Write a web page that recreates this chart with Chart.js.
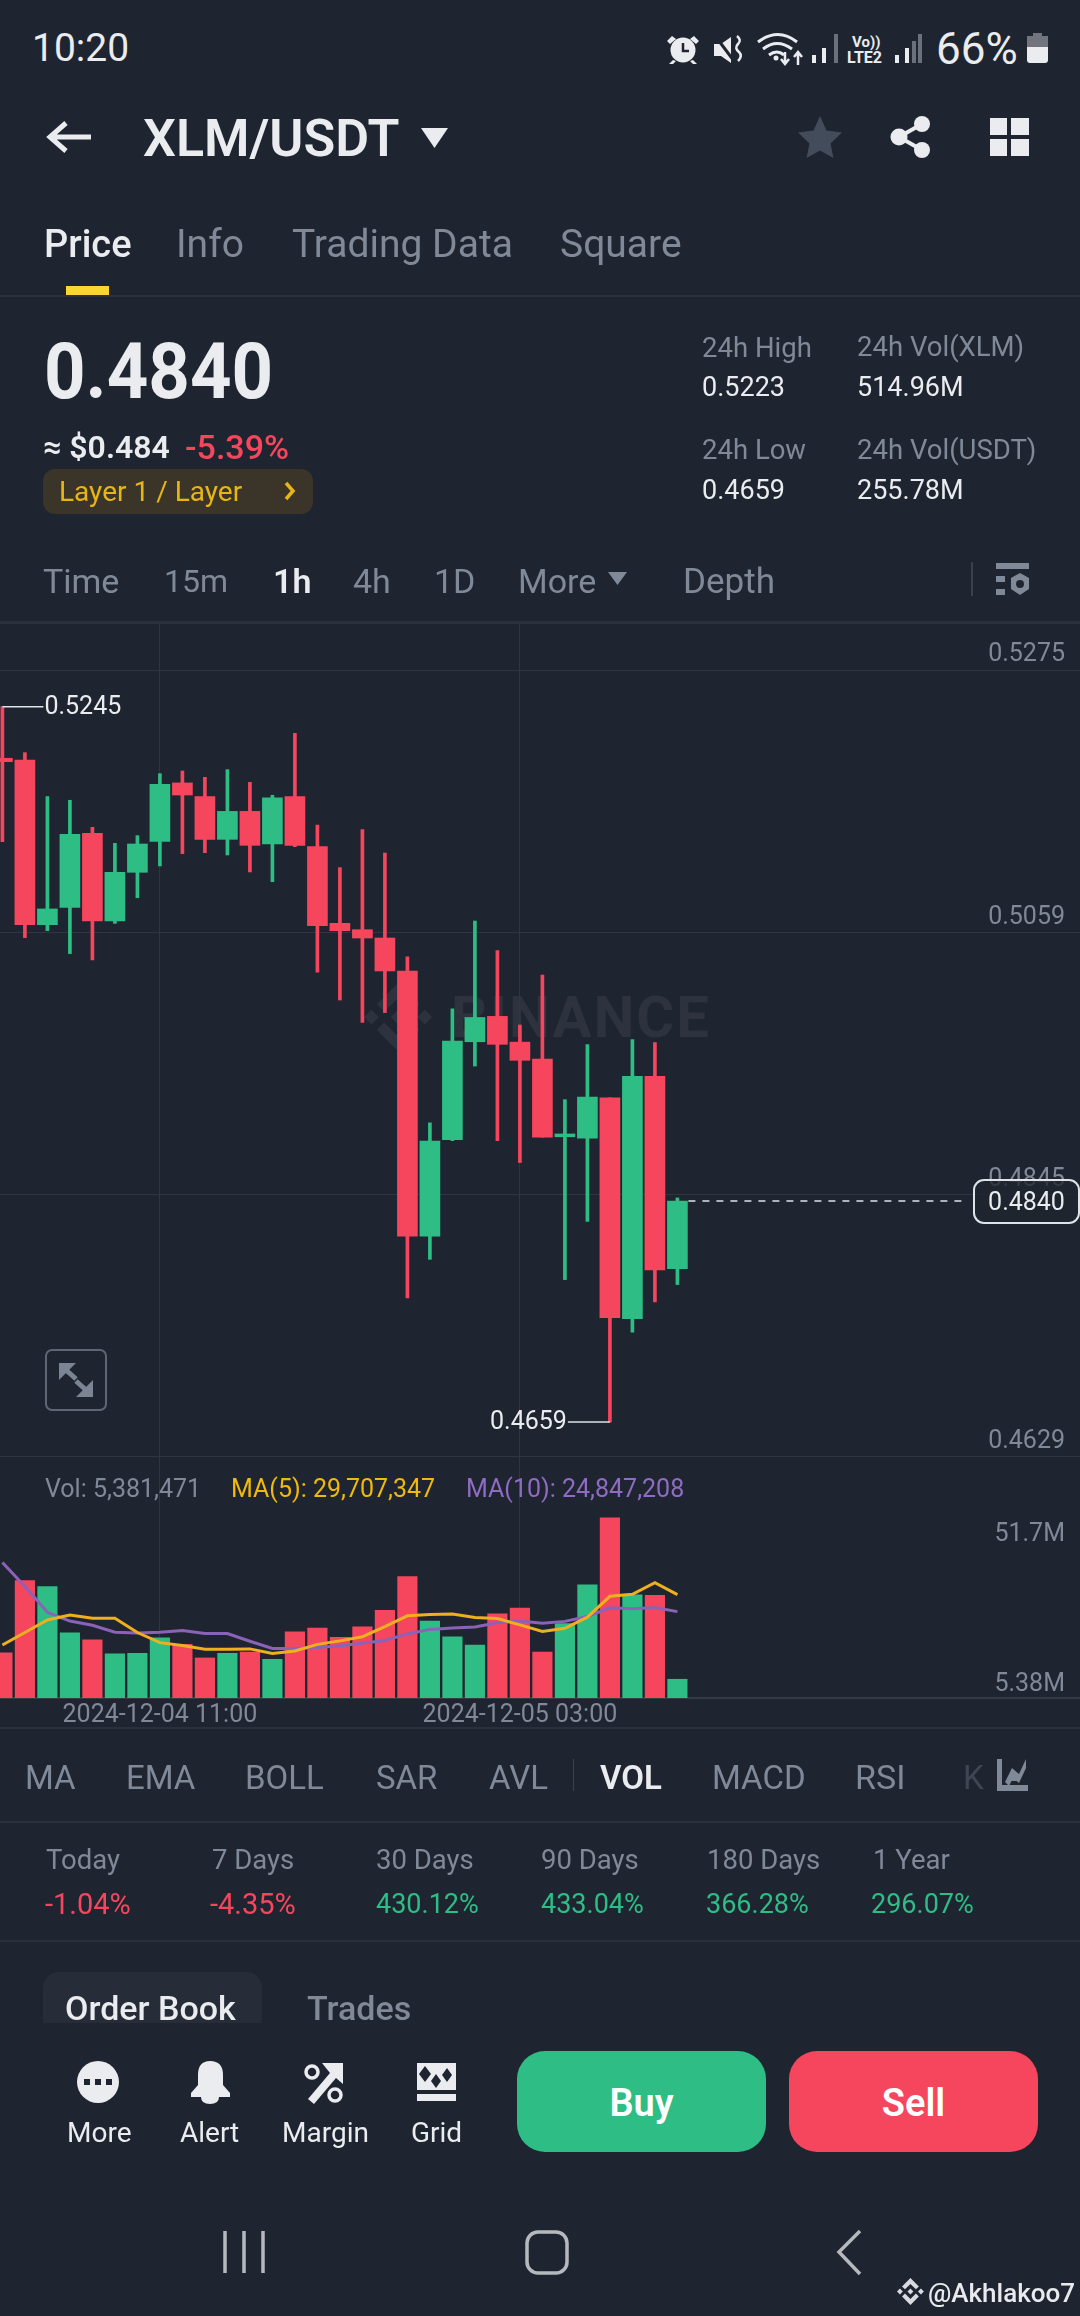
<!DOCTYPE html>
<html lang="en">
<head>
<meta charset="UTF-8">
<title>XLM/USDT</title>
<script src="https://cdn.jsdelivr.net/npm/chart.js"></script>
<style>
  html,body{margin:0;padding:0;background:#1f2530;}
  #page{position:relative;width:1080px;height:2316px;overflow:hidden;background:#1f2530;font-family:Roboto,sans-serif;color:#eaecef;}
  .t{position:absolute;white-space:nowrap;transform:translateY(-50%);line-height:1;}
  .grey{color:#808998;}
  .line{position:absolute;left:0;width:1080px;height:2px;background:#2b313c;}
  canvas{position:absolute;left:0;}
  svg{position:absolute;left:0;top:0;}
  .btn{position:absolute;top:2051px;width:249px;height:101px;border-radius:28px;text-align:center;line-height:105px;font-size:38px;font-weight:600;color:#fff;}
  #priceTag{position:absolute;left:973px;top:1179px;width:103px;height:41px;border:2px solid #dfe2e6;border-radius:11px;background:rgba(31,37,48,.8);text-align:center;line-height:42px;font-size:25px;color:#eaecef;}
</style>
</head>
<body>
<div id="page">

  <!-- watermark sits under the canvas -->
  <svg width="1080" height="2316">
    <defs>
      <g id="bn">
        <path d="M16 0L26 10L22.5 13.5L16 7L9.5 13.5L6 10z"/>
        <path d="M16 32L26 22L22.5 18.5L16 25L9.5 18.5L6 22z"/>
        <path d="M0 16L3.5 12.5L7 16L3.5 19.5z"/>
        <path d="M32 16L28.5 12.5L25 16L28.5 19.5z"/>
        <path d="M16 12.5L19.5 16L16 19.5L12.5 16z"/>
      </g>
    </defs>
    <use href="#bn" transform="translate(364,983) scale(2.13)" fill="#2d323e"/>
    <text x="451" y="1037" font-family="Roboto" font-weight="700" font-size="58" letter-spacing="2" fill="#2d323e">BINANCE</text>
  </svg>

  <canvas id="priceChart" width="1080" height="835" style="top:624px"></canvas>
  <canvas id="volChart" width="1080" height="272" style="top:1457px"></canvas>

  <!-- status bar -->
  <div class="t" style="left:32px;top:48px;font-size:39px;">10:20</div>
  <div class="t" style="left:936px;top:49px;font-size:44px;">66%</div>
  <div class="t" style="left:852px;top:42px;font-size:15px;font-weight:700;">Vo))</div>
  <div class="t" style="left:847px;top:58px;font-size:16px;font-weight:700;">LTE2</div>
  <svg width="1080" height="2316" fill="#eaecef">
    <!-- alarm -->
    <circle cx="683" cy="50" r="12.5"/><path d="M672 36l-5 5 3 3 6-5zM694 36l5 5-3 3-6-5zM673 60l-4 4h4l3-3zM693 60l4 4h-4l-3-3z"/>
    <path d="M683 43v8h6" stroke="#1f2530" stroke-width="2.5" fill="none"/>
    <!-- mute -->
    <path d="M714 44h7l10 -7v26l-10-7h-7z"/><path d="M716 37l18 24" stroke="#1f2530" stroke-width="3"/>
    <path d="M737 36q5 4 1 8q-4 4 1 8q4 4-1 9" stroke="#eaecef" stroke-width="2.5" fill="none"/>
    <!-- wifi -->
    <g fill="none" stroke="#eaecef" stroke-width="3"><path d="M758 42q20-15 39 0"/><path d="M763 49q14-11 29 0"/><path d="M769 55q8-6 15 0"/></g>
    <circle cx="776" cy="58" r="2.5"/>
    <path d="M785 52v11M781 59l4 5 4-5M798 65v-12M794 57l4-5 4 5" stroke="#eaecef" stroke-width="2.5" fill="none"/>
    <!-- signal -->
    <rect x="812" y="55" width="4" height="8"/><rect x="822" y="48" width="4" height="15"/><rect x="834" y="34" width="4" height="29" fill="#6b717c"/>
    <rect x="895" y="55" width="4" height="8"/><rect x="905" y="48" width="4" height="15"/><rect x="912" y="41" width="4" height="22" fill="#6b717c"/><rect x="918" y="34" width="4" height="29" fill="#6b717c"/>
    <!-- battery -->
    <path d="M1033 33h9v3h6v11h-21v-11h6z" fill="#72757d"/><path d="M1027 47h21v13q0 3-3 3h-15q-3 0-3-3z"/>

    <!-- header icons -->
    <path d="M91 137H54M66 123L50 137L66 151" fill="none" stroke="#eaecef" stroke-width="5"/>
    <path d="M421 128h27l-13.500 20z"/>
    <path d="M820 116l6.500 14.500 15.500 2-11.500 11 3 14.500-13.500-7.500-13.500 7.500 3-14.500-11.500-11 15.500-2z" fill="#434c5a"/>
    <circle cx="922" cy="124" r="8"/><circle cx="899" cy="137" r="8.500"/><circle cx="922" cy="150" r="8"/>
    <path d="M922 124L899 137L922 150" fill="none" stroke="#eaecef" stroke-width="4"/>
    <rect x="990" y="118" width="17" height="17"/><rect x="1011" y="118" width="18" height="17"/><rect x="990" y="139" width="17" height="17"/><rect x="1011" y="139" width="18" height="17"/>

    <!-- chart settings icon and divider -->
    <rect x="971" y="562" width="2" height="34" fill="#3a404c"/>
    <g fill="#808998">
      <rect x="996" y="563" width="33" height="6"/><rect x="996" y="576" width="9" height="6"/><rect x="996" y="589" width="9" height="6"/>
      <path d="M1020 573l9 5v11l-9 6-9-6v-11z"/>
    </g>
    <circle cx="1020" cy="584" r="4" fill="#1f2530"/>

    <!-- expand button -->
    <rect x="46" y="1350" width="60" height="60" rx="6" fill="none" stroke="#5e6673" stroke-width="2"/>
    <g fill="#7b8494">
      <path d="M59 1363h17l-17 17z"/>
      <path d="M93 1397H76l17-17z"/>
    </g>
    <path d="M66 1370l10 9M86 1390l-10-9" stroke="#7b8494" stroke-width="5" fill="none"/>

    <!-- indicator tab extras -->
    <rect x="573" y="1759" width="1" height="32" fill="#3a404c"/>
    <g fill="#808998">
      <path d="M997 1759h5v26h26v6h-31z"/>
      <path d="M1005 1782l7-14 7 6 7-15v9l-7 15-6-5-4 8z"/>
      <path d="M1012 1771l5 10h-10z"/>
    </g>

    <!-- toolbar icons -->
    <circle cx="98" cy="2082" r="21"/>
    <g fill="#1f2530"><rect x="84" y="2079" width="6" height="6"/><rect x="95" y="2079" width="6" height="6"/><rect x="106" y="2079" width="6" height="6"/></g>
    <path d="M210 2061q13 0 13 14v10l7 8v4h-39v-4l7-8v-10q0-14 12-14z"/><path d="M201 2097h18q0 7-9 7t-9-7z"/>
    <g>
      <path d="M322 2063h21v21l-7-6-22 26-6-5 22-26z"/>
      <circle cx="312" cy="2072" r="6" fill="none" stroke="#eaecef" stroke-width="3.500"/>
      <circle cx="335" cy="2095" r="6" fill="none" stroke="#eaecef" stroke-width="3.500"/>
    </g>
    <g>
      <path d="M417 2063h39v27h-39z"/>
      <path d="M425 2066l6 8-6 8-6-8zM436 2074l5 7-5 7-5-7zM447 2068l5 7-5 7-5-7z" fill="#1f2530"/>
      <rect x="417" y="2094" width="39" height="7"/>
    </g>

    <!-- android nav -->
    <g stroke="#b5b8bd" stroke-width="3.500" fill="none">
      <path d="M225 2231v42M244 2231v42M263 2231v42"/>
      <rect x="527" y="2232" width="40" height="41" rx="11"/>
      <path d="M860 2231L839 2252L860 2274"/>
    </g>
    <use href="#bn" transform="translate(897,2278) scale(.84)" fill="#d8dbe0"/>
  </svg>

  <!-- header -->
  <div class="t" style="left:143px;top:139px;font-size:52px;font-weight:600;">XLM/USDT</div>
  <div class="t" style="left:44px;top:244px;font-size:38px;font-weight:500;">Price</div>
  <div class="t grey" style="left:176px;top:244px;font-size:39px;">Info</div>
  <div class="t grey" style="left:292px;top:244px;font-size:39px;">Trading Data</div>
  <div class="t grey" style="left:560px;top:244px;font-size:39px;">Square</div>
  <div style="position:absolute;left:66px;top:286px;width:43px;height:9px;background:#fcd535;"></div>
  <div class="line" style="top:295px;"></div>

  <!-- price block -->
  <div class="t" style="left:44px;top:372px;font-size:78px;font-weight:700;transform:translateY(-50%) scaleX(.93);transform-origin:left center;">0.4840</div>
  <div class="t" style="left:43px;top:447px;font-size:32px;font-weight:600;">≈ $0.484</div>
  <div class="t" style="left:185px;top:447px;font-size:34px;font-weight:500;color:#f6465d;">-5.39%</div>
  <div style="position:absolute;left:43px;top:469px;width:270px;height:45px;border-radius:12px;background:#3a3528;"></div>
  <div class="t" style="left:59px;top:492px;font-size:28px;color:#e8b517;">Layer 1 / Layer</div>
  <svg width="1080" height="700"><path d="M286 483l7 8-7 8" fill="none" stroke="#e8b517" stroke-width="3.500"/></svg>

  <div class="t grey" style="left:702px;top:348px;font-size:27.5px;">24h High</div>
  <div class="t" style="left:702px;top:387px;font-size:27px;">0.5223</div>
  <div class="t grey" style="left:857px;top:347px;font-size:27.5px;">24h Vol(XLM)</div>
  <div class="t" style="left:857px;top:387px;font-size:27px;">514.96M</div>
  <div class="t grey" style="left:702px;top:450px;font-size:27.5px;">24h Low</div>
  <div class="t" style="left:702px;top:490px;font-size:27px;">0.4659</div>
  <div class="t grey" style="left:857px;top:450px;font-size:27.5px;">24h Vol(USDT)</div>
  <div class="t" style="left:857px;top:490px;font-size:27px;">255.78M</div>

  <!-- intervals -->
  <div class="t grey" style="left:43px;top:581px;font-size:34px;">Time</div>
  <div class="t grey" style="left:164px;top:581px;font-size:32px;">15m</div>
  <div class="t" style="left:273px;top:581px;font-size:34px;font-weight:600;">1h</div>
  <div class="t grey" style="left:353px;top:581px;font-size:34px;">4h</div>
  <div class="t grey" style="left:434px;top:581px;font-size:34px;">1D</div>
  <div class="t grey" style="left:518px;top:581px;font-size:34px;">More</div>
  <svg width="1080" height="700"><path d="M608 572h19l-9.500 13z" fill="#808998"/></svg>
  <div class="t grey" style="left:683px;top:581px;font-size:35px;">Depth</div>
  <div class="line" style="top:621px;height:3px;"></div>

  <div id="priceTag">0.4840</div>

  <!-- volume legend -->
  <div class="t grey" style="left:45px;top:1488px;font-size:25px;">Vol: 5,381,471</div>
  <div class="t" style="left:231px;top:1488px;font-size:25px;color:#f0b90b;">MA(5): 29,707,347</div>
  <div class="t" style="left:466px;top:1488px;font-size:25px;color:#8f6bc4;">MA(10): 24,847,208</div>

  <div class="line" style="top:1727px;"></div>

  <!-- indicators -->
  <div class="t grey" style="left:25px;top:1777px;font-size:33px;">MA</div>
  <div class="t grey" style="left:126px;top:1777px;font-size:33px;">EMA</div>
  <div class="t grey" style="left:245px;top:1777px;font-size:33px;">BOLL</div>
  <div class="t grey" style="left:376px;top:1777px;font-size:33px;">SAR</div>
  <div class="t grey" style="left:489px;top:1777px;font-size:33px;">AVL</div>
  <div class="t" style="left:600px;top:1777px;font-size:33px;font-weight:600;">VOL</div>
  <div class="t grey" style="left:712px;top:1777px;font-size:33px;">MACD</div>
  <div class="t grey" style="left:855px;top:1777px;font-size:34px;">RSI</div>
  <div class="t" style="left:963px;top:1777px;font-size:33px;color:#3f4552;">K</div>
  <div class="line" style="top:1821px;"></div>

  <!-- performance -->
  <div class="t grey" style="left:46px;top:1860px;font-size:27.5px;">Today</div>
  <div class="t grey" style="left:212px;top:1860px;font-size:27.5px;">7 Days</div>
  <div class="t grey" style="left:376px;top:1860px;font-size:27.5px;">30 Days</div>
  <div class="t grey" style="left:541px;top:1860px;font-size:27.5px;">90 Days</div>
  <div class="t grey" style="left:707px;top:1860px;font-size:27.5px;">180 Days</div>
  <div class="t grey" style="left:873px;top:1860px;font-size:27.5px;">1 Year</div>
  <div class="t" style="left:45px;top:1904px;font-size:29px;color:#f6465d;">-1.04%</div>
  <div class="t" style="left:210px;top:1904px;font-size:29px;color:#f6465d;">-4.35%</div>
  <div class="t" style="left:376px;top:1904px;font-size:27px;color:#2ebd85;">430.12%</div>
  <div class="t" style="left:541px;top:1904px;font-size:27px;color:#2ebd85;">433.04%</div>
  <div class="t" style="left:706px;top:1904px;font-size:27px;color:#2ebd85;">366.28%</div>
  <div class="t" style="left:871px;top:1904px;font-size:27px;color:#2ebd85;">296.07%</div>
  <div class="line" style="top:1940px;"></div>

  <!-- order book tabs -->
  <div style="position:absolute;left:43px;top:1972px;width:219px;height:51px;background:#272d38;border-radius:16px 16px 0 0;"></div>
  <div class="t" style="left:65px;top:2008px;font-size:34px;font-weight:500;">Order Book</div>
  <div class="t grey" style="left:307px;top:2008px;font-size:34px;font-weight:500;">Trades</div>

  <!-- toolbar -->
  <div class="t" style="left:67px;top:2133px;font-size:28px;">More</div>
  <div class="t" style="left:180px;top:2133px;font-size:28px;">Alert</div>
  <div class="t" style="left:282px;top:2133px;font-size:28px;">Margin</div>
  <div class="t" style="left:411px;top:2133px;font-size:28px;">Grid</div>
  <div class="btn" style="left:517px;background:#2ebd85;">Buy</div>
  <div class="btn" style="left:789px;background:#f6465d;">Sell</div>

  <div class="t" style="left:928px;top:2293px;font-size:26px;font-weight:500;color:#e8eaed;">@Akhlakoo7</div>
</div>

<script>
  const timeLabels = [
    "2024-12-04 04:00","2024-12-04 05:00","2024-12-04 06:00","2024-12-04 07:00","2024-12-04 08:00",
    "2024-12-04 09:00","2024-12-04 10:00","2024-12-04 11:00","2024-12-04 12:00","2024-12-04 13:00",
    "2024-12-04 14:00","2024-12-04 15:00","2024-12-04 16:00","2024-12-04 17:00","2024-12-04 18:00",
    "2024-12-04 19:00","2024-12-04 20:00","2024-12-04 21:00","2024-12-04 22:00","2024-12-04 23:00",
    "2024-12-05 00:00","2024-12-05 01:00","2024-12-05 02:00","2024-12-05 03:00","2024-12-05 04:00",
    "2024-12-05 05:00","2024-12-05 06:00","2024-12-05 07:00","2024-12-05 08:00","2024-12-05 09:00",
    "2024-12-05 10:00"
  ];

  const opens = [.52027,.52013,.50664,.50806,.51412,.50694,.51093,.51347,.51825,.51713,
                 .51363,.51592,.51325,.51713,.51303,.50675,.50623,.50555,.50284,.48113,
                 .48903,.49705,.49913,.49702,.49564,.48927,.48915,.49246,.47438,.49421,.47847];
  const closes = [.51999,.50664,.50793,.51404,.50694,.51093,.51325,.51814,.51726,.51363,
                  .51592,.51314,.51704,.51314,.50656,.50615,.50555,.50285,.48113,.48892,
                  .49711,.49904,.49684,.49553,.48924,.48950,.49251,.47446,.49421,.47836,.4840];
  const highs = [.5245,.52073,.51713,.51683,.51461,.51330,.51393,.51901,.51923,.51871,
                 .51934,.51830,.51724,.52231,.51480,.51131,.51442,.51251,.50401,.49041,
                 .49974,.50694,.50451,.49842,.50252,.49231,.49681,.49246,.49722,.49699,.48426];
  const lows = [.51344,.50558,.50615,.50427,.50375,.50675,.50885,.51145,.51246,.51254,
                .51235,.51096,.51016,.51303,.50276,.50047,.49864,.49944,.47607,.47923,
                .48895,.49506,.48895,.48716,.48924,.47757,.48233,.4659,.47327,.47575,.47716];

  const volumes = [13.0,33.7,32.0,18.7,16.7,12.7,12.8,17.3,15.4,11.5,
                   12.8,13.2,11.1,19.0,20.1,17.4,20.4,25.2,34.9,22.1,
                   17.6,15.2,24.2,25.8,13.2,21.4,32.5,51.7,29.6,29.5,5.38];
  const ma5 = [15.2,18.8,22.4,23.8,22.9,22.9,18.8,15.9,15.1,14.0,
               14.0,14.1,12.8,13.5,15.4,16.4,17.6,20.5,23.6,24.0,
               24.1,23.1,22.8,21.0,19.1,20.0,23.2,29.2,29.8,33.1,29.7];
  const ma10 = [38.9,32.0,24.6,22.1,20.9,18.9,18.7,18.9,19.4,18.5,
                18.5,16.3,14.2,14.2,14.5,15.0,15.7,16.5,18.4,19.7,
                20.1,20.4,21.6,22.1,21.5,22.0,23.4,25.9,25.6,26.0,24.8];

  const priceGrid = [.5275,.50601,.48453,.46304];
  const priceTickLabels = ["0.5275","0.5059","0.4845","0.4629"];
  const timeTicks = [7,23];
  const volTickValues = [51.7,5.38];
  const volTickLabels = ["51.7M","5.38M"];

  const UP = "#2ebd85", DOWN = "#f6465d", GRID = "#2f3541", TICK = "#808998";
  const FONT = "Roboto";
  // candle 0 sits at x=2.4px and candles are 22.5px apart
  const xMin = -0.107, xMax = 47.893;

  const candleColors = closes.map((c, i) => c >= opens[i] ? UP : DOWN);
  const pts = arr => arr.map((v, i) => ({x: i, y: v}));

  function fitAxis(s, size) {
    if (s.isHorizontal()) s.height = size; else s.width = size;
    s.paddingLeft = s.paddingRight = s.paddingTop = s.paddingBottom = 0;
  }

  // high/low leaders and the dashed last price line
  const priceMarks = {
    id: "priceMarks",
    afterDatasetsDraw(chart) {
      const {ctx, scales: {x, y}} = chart;
      const hi = highs.indexOf(Math.max(...highs));
      const lo = lows.indexOf(Math.min(...lows));
      const last = closes.length - 1;
      ctx.save();
      ctx.font = "25px " + FONT;
      ctx.fillStyle = "#eaecef";
      ctx.strokeStyle = "#dfe2e6";
      ctx.lineWidth = 1.5;
      ctx.textBaseline = "middle";

      const hy = y.getPixelForValue(highs[hi]), hx = x.getPixelForValue(hi);
      ctx.beginPath(); ctx.moveTo(hx, hy); ctx.lineTo(hx + 41, hy); ctx.stroke();
      ctx.textAlign = "left";
      ctx.fillText(highs[hi].toFixed(4), hx + 42, hy + 1);

      const ly = y.getPixelForValue(lows[lo]), lx = x.getPixelForValue(lo);
      ctx.beginPath(); ctx.moveTo(lx, ly); ctx.lineTo(lx - 42, ly); ctx.stroke();
      ctx.textAlign = "right";
      ctx.fillText(lows[lo].toFixed(4), lx - 43, ly + 1);

      const cy = y.getPixelForValue(closes[last]);
      ctx.setLineDash([7, 7]);
      ctx.beginPath(); ctx.moveTo(x.getPixelForValue(last) + 11, cy); ctx.lineTo(963, cy); ctx.stroke();
      ctx.restore();
    }
  };

  const volLabels = {
    id: "volLabels",
    afterDatasetsDraw(chart) {
      const {ctx, scales: {y}} = chart;
      ctx.save();
      ctx.font = "25px " + FONT;
      ctx.fillStyle = TICK;
      ctx.textAlign = "right";
      ctx.textBaseline = "middle";
      volTickValues.forEach((v, i) => {
        ctx.fillText(volTickLabels[i], 1065, y.getPixelForValue(v) + (i === 0 ? 17 : 5));
      });
      ctx.restore();
    }
  };

  new Chart(document.getElementById("priceChart"), {
    type: "bar",
    plugins: [priceMarks],
    data: {
      datasets: [
        {
          label: "wick",
          data: highs.map((h, i) => ({x: i, y: [lows[i], h]})),
          backgroundColor: candleColors,
          grouped: false, barPercentage: 1, categoryPercentage: 1, maxBarThickness: 3
        },
        {
          label: "body",
          data: opens.map((o, i) => ({x: i, y: [o, closes[i]]})),
          backgroundColor: candleColors,
          grouped: false, barPercentage: 1, categoryPercentage: 1, maxBarThickness: 20
        }
      ]
    },
    options: {
      responsive: false,
      animation: false,
      layout: {padding: 0},
      plugins: {legend: {display: false}, tooltip: {enabled: false}},
      scales: {
        x: {
          type: "linear", min: xMin, max: xMax, offset: false, bounds: "data",
          grid: {color: GRID, offset: false, drawTicks: false},
          border: {display: false},
          ticks: {display: false},
          afterBuildTicks: s => { s.ticks = timeTicks.map(v => ({value: v})); },
          afterFit: s => fitAxis(s, 0)
        },
        y: {
          position: "right", min: .462876, max: .531268, bounds: "data",
          grid: {color: GRID, drawTicks: false},
          border: {display: false},
          ticks: {
            mirror: true, padding: -15, labelOffset: -15, color: TICK,
            font: {family: FONT, size: 25},
            callback: (v, i) => priceTickLabels[i]
          },
          afterBuildTicks: s => { s.ticks = priceGrid.map(v => ({value: v})); },
          afterFit: s => fitAxis(s, 0)
        }
      }
    }
  });

  new Chart(document.getElementById("volChart"), {
    type: "bar",
    plugins: [volLabels],
    data: {
      datasets: [
        {type: "line", label: "MA(5)", data: pts(ma5), borderColor: "#eeb01f", borderWidth: 3, pointRadius: 0, tension: 0, order: 0},
        {type: "line", label: "MA(10)", data: pts(ma10), borderColor: "#8a62b8", borderWidth: 3, pointRadius: 0, tension: 0, order: 0},
        {label: "Vol", data: pts(volumes), backgroundColor: candleColors, barThickness: 19.5, order: 1}
      ]
    },
    options: {
      responsive: false,
      animation: false,
      layout: {padding: 0},
      plugins: {legend: {display: false}, tooltip: {enabled: false}},
      scales: {
        x: {
          type: "linear", min: xMin, max: xMax, offset: false, bounds: "data",
          grid: {color: GRID, offset: false, drawTicks: false},
          border: {display: true, color: "#343a46", width: 2},
          ticks: {
            color: TICK, padding: 3, maxRotation: 0, minRotation: 0, autoSkip: false,
            font: {family: FONT, size: 25},
            callback: v => timeLabels[v]
          },
          afterBuildTicks: s => { s.ticks = timeTicks.map(v => ({value: v})); },
          afterFit: s => fitAxis(s, 31)
        },
        y: {display: false, min: 0, max: 69.2, bounds: "data"}
      }
    }
  });
</script>
</body>
</html>
